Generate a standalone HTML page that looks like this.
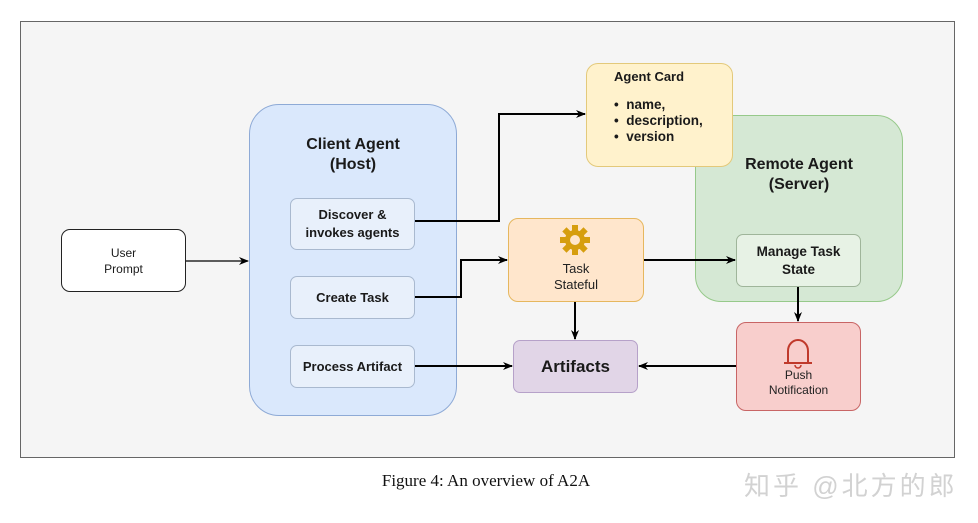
<!DOCTYPE html>
<html><head><meta charset="utf-8"><style>
body{margin:0;width:978px;height:523px;background:#fff;position:relative;overflow:hidden;font-family:"Liberation Sans",Arial,sans-serif;}
.b{position:absolute;box-sizing:border-box;display:flex;align-items:center;justify-content:center;text-align:center;font-weight:bold;color:#1a1a1a;}
</style></head><body>
<div style="position:absolute;left:20px;top:21px;width:935px;height:437px;box-sizing:border-box;border:1px solid #666;background:#f5f5f5"></div>
<div class="b" style="left:61px;top:229px;width:125px;height:63px;border:1.5px solid #222;border-radius:9px;background:#fff;font-weight:normal;font-size:12px;line-height:16px">User<br>Prompt</div>
<div class="b" style="left:249px;top:104px;width:208px;height:312px;border:1.5px solid #8eaad6;border-radius:30px;background:#dae8fc;align-items:flex-start;padding-top:30px;font-size:16px;line-height:20px">Client Agent<br>(Host)</div>
<div class="b" style="left:290px;top:198px;width:125px;height:52px;border:1.5px solid #a9b9cf;border-radius:7px;background:#e8f0fb;font-size:13px;line-height:18px">Discover &amp;<br>invokes agents</div>
<div class="b" style="left:290px;top:276px;width:125px;height:43px;border:1.5px solid #a9b9cf;border-radius:7px;background:#e8f0fb;font-size:13px">Create Task</div>
<div class="b" style="left:290px;top:345px;width:125px;height:43px;border:1.5px solid #a9b9cf;border-radius:7px;background:#e8f0fb;font-size:13px">Process Artifact</div>
<div class="b" style="left:695px;top:115px;width:208px;height:187px;border:1.5px solid #96c98a;border-radius:26px;background:#d5e8d4;align-items:flex-start;padding-top:39px;font-size:16px;line-height:20px">Remote Agent<br>(Server)</div>
<div class="b" style="left:586px;top:63px;width:147px;height:104px;border:1.5px solid #e3c97a;border-radius:12px;background:#fff2cc;padding:5px 0 0 27px;text-align:left;font-size:13px;line-height:16px;display:block">Agent Card<div style="margin-top:12px;line-height:16px;font-size:13.5px">• &nbsp;name,<br>• &nbsp;description,<br>• &nbsp;version</div></div>
<div class="b" style="left:736px;top:234px;width:125px;height:53px;border:1.5px solid #9fb59a;border-radius:7px;background:#e7f2e5;font-size:13.5px;line-height:18px">Manage Task<br>State</div>
<div class="b" style="left:508px;top:218px;width:136px;height:84px;border:1.5px solid #e6b75e;border-radius:10px;background:#ffe6cc;font-size:13px;line-height:16px;padding-top:34px;font-weight:normal;color:#222">Task<br>Stateful</div>
<div class="b" style="left:513px;top:340px;width:125px;height:53px;border:1.5px solid #b6a1c9;border-radius:7px;background:#e1d5e7;font-size:17px">Artifacts</div>
<div class="b" style="left:736px;top:322px;width:125px;height:89px;border:1.5px solid #c86565;border-radius:10px;background:#f8cecc;font-size:12px;line-height:15px;padding-top:32px;font-weight:normal;color:#222">Push<br>Notification</div>
<svg style="position:absolute;left:0;top:0" width="978" height="523">
<defs><marker id="a" markerWidth="10" markerHeight="8" refX="9" refY="4" orient="auto" markerUnits="userSpaceOnUse"><path d="M0,0 L10,4 L0,8 L3,4z" fill="#000"/></marker></defs>
<g stroke="#000" stroke-width="2" fill="none" marker-end="url(#a)">
<path d="M186,261 H248" stroke-width="1.3"/>
<path d="M415,221 H499 V114 H585"/>
<path d="M415,297 H461 V260 H507"/>
<path d="M415,366 H512"/>
<path d="M575,302 V339"/>
<path d="M644,260 H735"/>
<path d="M798,287 V321"/>
<path d="M736,366 H639"/>
</g>
<g transform="translate(575,240)" fill="#d69e0e">
<circle r="10"/>
<g><rect x="-3" y="-15" width="6" height="30"/><rect x="-15" y="-3" width="30" height="6"/><rect x="-3" y="-15" width="6" height="30" transform="rotate(45)"/><rect x="-3" y="-15" width="6" height="30" transform="rotate(-45)"/></g>
<circle r="5" fill="#ffe6cc"/>
</g>
<path d="M788,363 V351 A10,11 0 0 1 808,351 V363 M784,363 H812" stroke="#c0392b" stroke-width="2" fill="none"/>
<path d="M795,365 A3,3 0 0 0 801,365" stroke="#c0392b" stroke-width="1.5" fill="none"/>
</svg>
<div style="position:absolute;left:0;width:978px;top:471px;text-align:center;font-family:'Liberation Serif',serif;font-size:17px;color:#111;padding-right:6px;box-sizing:border-box">Figure 4: An overview of A2A</div>
<div style="position:absolute;left:744px;top:466px;font-family:'Liberation Sans','Noto Sans CJK SC',sans-serif;font-size:26px;color:#d2d2d2;letter-spacing:3px">知乎 @北方的郎</div>
</body></html>
